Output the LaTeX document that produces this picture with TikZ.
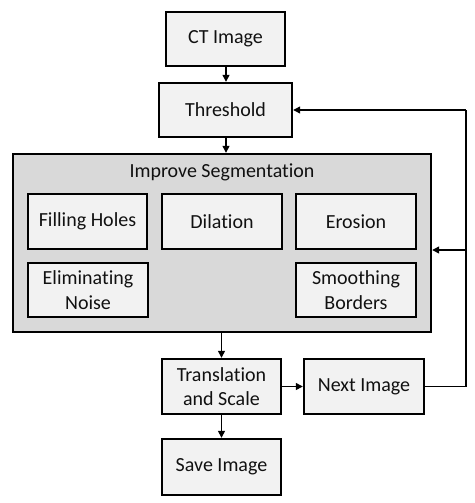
\documentclass[tikz,border=0pt]{standalone}
\usepackage{fontspec}
\setmainfont{Carlito}[Ligatures=NoCommon]
\usetikzlibrary{arrows.meta}
\definecolor{boxfill}{HTML}{F2F2F2}
\definecolor{bigfill}{HTML}{D9D9D9}
\definecolor{txt}{HTML}{111111}
\tikzset{
  box/.style={draw=black, fill=boxfill, line width=2.4pt, rectangle, align=center,
    text=txt, font=\fontsize{20}{24.5}\selectfont, inner sep=0pt},
  bigbox/.style={draw=black, fill=bigfill, line width=2.4pt, rectangle},
  conn/.style={draw=black, line width=1.3pt, -{Triangle[length=7pt,width=7pt]}},
  plain/.style={draw=black, line width=1.3pt}
}
\begin{document}
\begin{tikzpicture}[x=1pt,y=-1pt]
\useasboundingbox (0,0) rectangle (474,503);
\node[box, minimum width=119pt, minimum height=54pt] (ct) at (225.5,39) {CT Image};
\node[box, minimum width=133pt, minimum height=54pt] (thr) at (225.5,110) {Threshold};
\node[bigbox, minimum width=418pt, minimum height=178pt] (big) at (222,243) {};
\node[text=txt, font=\fontsize{20}{24.5}\selectfont] (title) at (222,172) {Improve Segmentation};
\node[box, minimum width=119pt, minimum height=55pt] (fill) at (87.5,221.5) {Filling Holes};
\node[box, minimum width=120pt, minimum height=55pt] (dil) at (222,221.5) {Dilation};
\node[box, minimum width=120pt, minimum height=55pt] (ero) at (356,221.5) {Erosion};
\node[box, minimum width=120pt, minimum height=54pt] (elim) at (88,290) {Eliminating\\Noise};
\node[box, minimum width=120pt, minimum height=54pt] (smooth) at (356,290) {Smoothing\\Borders};
\node[box, minimum width=119pt, minimum height=55pt] (trans) at (221.5,386.5) {Translation\\and Scale};
\node[box, minimum width=120pt, minimum height=55pt] (next) at (364,386.5) {Next Image};
\node[box, minimum width=119pt, minimum height=56pt] (save) at (221.5,467) {Save Image};
\coordinate (c1) at (466,386.5);
\coordinate (c2) at (466,110);
\coordinate (c3) at (466,250);
\draw[conn] (ct.south -| 226,0) -- (thr.north -| 226,0);
\draw[conn] (thr.south -| 226,0) -- (big.north -| 226,0);
\draw[conn] (big.south -| trans.north) -- (trans.north);
\draw[conn] (trans) -- (save);
\draw[conn] (trans) -- (next);
\draw[plain] (next.east) -- (c1) -- (c2);
\draw[conn] (c2) -- (thr.east);
\draw[conn] (c3) -- (big.east |- c3);
\end{tikzpicture}
\end{document}
